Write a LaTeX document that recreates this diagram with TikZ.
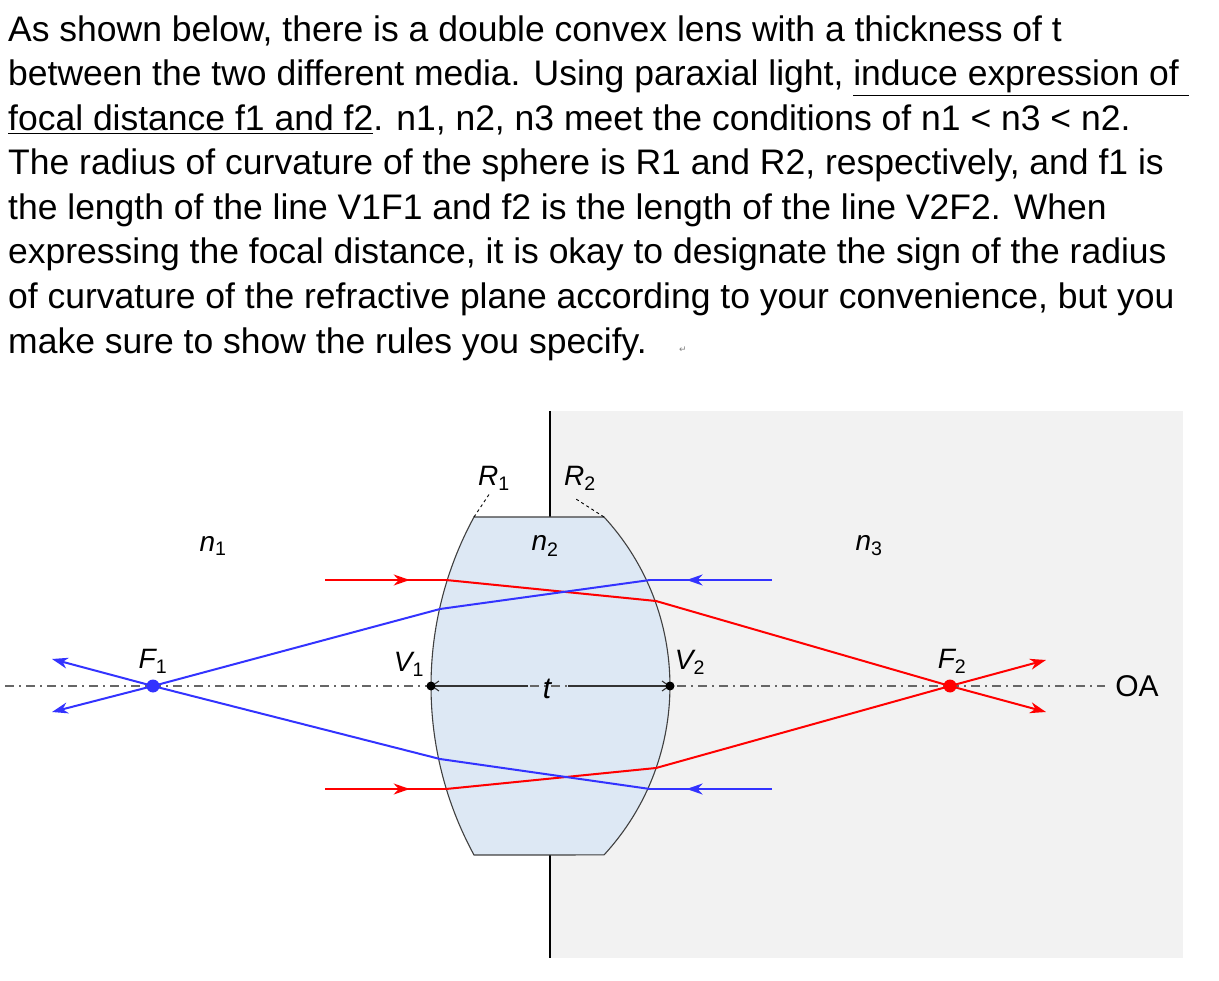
\documentclass[tikz,border=0pt]{standalone}
\usepackage{fontspec}
\setmainfont{Liberation Sans}
\newfontfamily\djv{DejaVu Sans}
\usetikzlibrary{arrows.meta,decorations.markings}
\begin{document}
\begin{tikzpicture}[x=1pt,y=-1pt,
  para/.style={anchor=base west,inner sep=0,font=\fontsize{35.5}{38}\selectfont},
  lbl/.style={font=\fontsize{28}{30}\selectfont\itshape,inner sep=0},
  ray/.style={line width=2pt},
  midarrow/.style={postaction={decorate},decoration={markings,mark=at position #1 with {\arrow{Stealth[length=16pt,width=11pt,inset=5pt]}}}},
  endarr/.style={-{Stealth[length=16pt,width=11pt,inset=5pt]}}]
\useasboundingbox (0,0) rectangle (1219,981);
% text
\node[para] (l1) at (8,42) {As shown below, there is a double convex lens with a thickness of t};
\node[para] (l2) at (8,86) {between the two different media. Using paraxial light, \underline{induce expression of\ }};
\node[para] (l3) at (8,131) {\underline{focal distance f1 and f2}. n1, n2, n3 meet the conditions of n1 < n3 < n2.};
\node[para] (l4) at (8,175) {The radius of curvature of the sphere is R1 and R2, respectively, and f1 is};
\node[para] (l5) at (8,220) {the length of the line V1F1 and f2 is the length of the line V2F2. When};
\node[para] (l6) at (8,264) {expressing the focal distance, it is okay to designate the sign of the radius};
\node[para] (l7) at (8,309) {of curvature of the refractive plane according to your convenience, but you};
\node[para] (l8) at (8,354) {make sure to show the rules you specify.};
\node[inner sep=0,font=\djv\fontsize{9}{10}\selectfont,text=gray] (ret) at (683,350) {↵};
% background medium
\fill[black!5] (550,411) rectangle (1183,958);
\draw[line width=1.2pt] (550,411) -- (550,958);
% lens
\filldraw[fill={rgb,255:red,221;green,232;blue,244},draw=black!75,line width=1.1pt]
  (474,517) -- (604,517) arc[start angle=-42.65,end angle=42.65,radius=249.4]
  -- (474,855) arc[start angle=151.45,end angle=208.55,radius=353.6] -- cycle;
\draw[dashed,line width=0.9pt] (474,517) -- (490,493);
\draw[dashed,line width=0.9pt] (604,517) -- (576,499);
% axis
\draw[black!60,line width=1.2pt,dash pattern=on 9pt off 5pt on 2pt off 5pt] (5,686) -- (1105,686);
% points
\coordinate (F1) at (153,686);
\coordinate (F2) at (950,686);
\coordinate (V1) at (431,686);
\coordinate (V2) at (670,686);
% t arrows
\draw[black!80,line width=1.1pt,-{Straight Barb[length=7pt,width=10pt]}] (528,686) -- (V1);
\draw[black!80,line width=1.1pt,-{Straight Barb[length=7pt,width=10pt]}] (568,686) -- (V2);
% red rays
\draw[red,ray,midarrow=0.7] (325,580) -- (446,580);
\draw[red,ray] (446,580) -- (656,601) -- (F2);
\draw[red,ray,endarr] (F2) -- (1046,712);
\draw[red,ray,midarrow=0.7] (325,789) -- (446,789);
\draw[red,ray] (446,789) -- (656,768) -- (F2);
\draw[red,ray,endarr] (F2) -- (1046,660);
% blue rays
\draw[blue!80!white,ray,midarrow=0.7] (772,580) -- (650,580);
\draw[blue!80!white,ray] (650,580) -- (440,609) -- (F1);
\draw[blue!80!white,ray,endarr] (F1) -- (52,712);
\draw[blue!80!white,ray,midarrow=0.7] (772,789) -- (650,789);
\draw[blue!80!white,ray] (650,789) -- (440,759) -- (F1);
\draw[blue!80!white,ray,endarr] (F1) -- (52,659);
\fill[blue!80!white] (F1) circle (6.5);
\fill[red] (F2) circle (6.5);
\fill[black] (V1) circle (4.5);
\fill[black] (V2) circle (4.5);
% labels
\node[lbl] (n1) at (213,546) {n$_{\mathrm 1}$};
\node[lbl] (n2) at (545,546) {n$_{\mathrm 2}$};
\node[lbl] (n3) at (869,546) {n$_{\mathrm 3}$};
\node[lbl] (R1) at (494,478) {R$_{\mathrm 1}$};
\node[lbl] (R2) at (580,478) {R$_{\mathrm 2}$};
\node[lbl] (F1l) at (153,661) {F$_{\mathrm 1}$};
\node[lbl] (V1l) at (409,664) {V$_{\mathrm 1}$};
\node[lbl] (V2l) at (690,662) {V$_{\mathrm 2}$};
\node[lbl] (F2l) at (952,661) {F$_{\mathrm 2}$};
\node[lbl,font=\fontsize{30}{32}\selectfont\itshape] (tl) at (547,689) {t};
\node[inner sep=0,font=\fontsize{30}{32}\selectfont] (OA) at (1137,686) {OA};
\end{tikzpicture}
\end{document}
